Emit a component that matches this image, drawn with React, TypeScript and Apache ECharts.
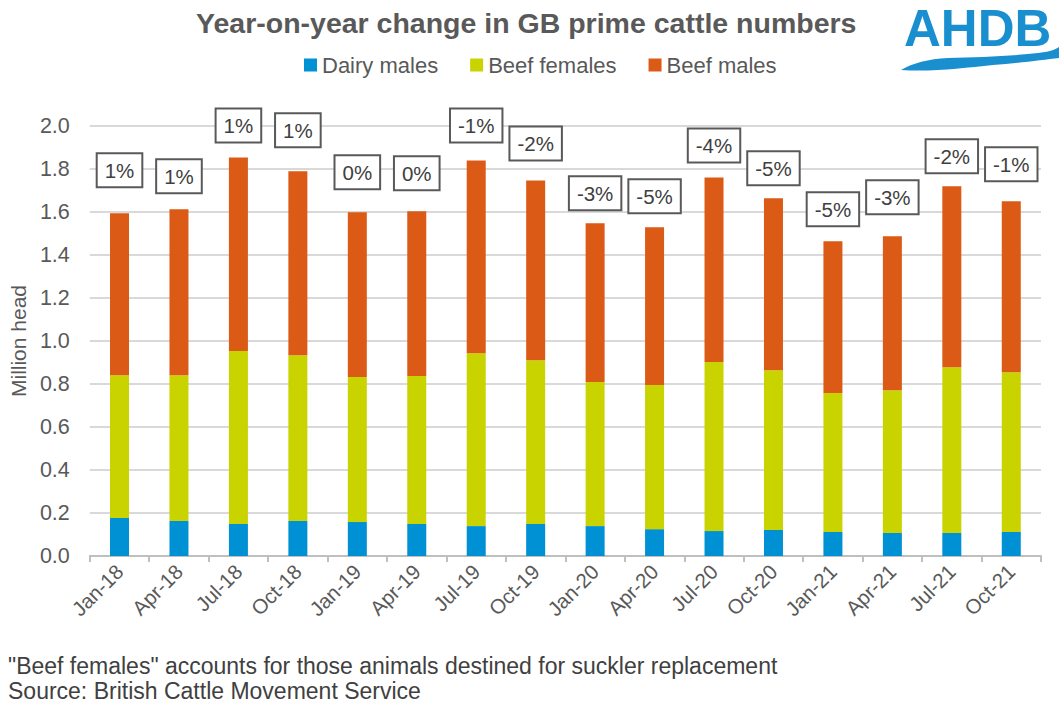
import React, { useEffect, useRef } from "react";
import * as echarts from "echarts";

// Quarterly GB prime cattle numbers (million head) by type
const categories = [
  "Jan-18", "Apr-18", "Jul-18", "Oct-18",
  "Jan-19", "Apr-19", "Jul-19", "Oct-19",
  "Jan-20", "Apr-20", "Jul-20", "Oct-20",
  "Jan-21", "Apr-21", "Jul-21", "Oct-21",
];
const dairyMales = [
  0.177, 0.163, 0.149, 0.163, 0.158, 0.149, 0.139, 0.149,
  0.139, 0.125, 0.116, 0.121, 0.112, 0.107, 0.107, 0.112,
];
const beefFemales = [
  0.664, 0.678, 0.804, 0.771, 0.674, 0.688, 0.804, 0.762,
  0.670, 0.670, 0.786, 0.743, 0.646, 0.664, 0.771, 0.743,
];
const beefMales = [
  0.753, 0.772, 0.901, 0.855, 0.767, 0.766, 0.897, 0.836,
  0.739, 0.734, 0.859, 0.800, 0.706, 0.716, 0.842, 0.795,
];
// Year-on-year change in the total, shown above each bar
const yoyChange = [
  "1%", "1%", "1%", "1%", "0%", "0%", "-1%", "-2%",
  "-3%", "-5%", "-4%", "-5%", "-5%", "-3%", "-2%", "-1%",
];
// Space (px) between each bar top and its change label
const labelGaps = [27, 17, 16, 25, 24, 22, 19, 21, 14, 15, 16, 14, 16, 23, 14, 21];

const yTicks = { min: 0, max: 2, interval: 0.2 };

const COLORS = ["#0090d4", "#c9d300", "#db5a16"];
const TEXT = "#595959";
const FONT = "Arial, 'Liberation Sans', Helvetica, sans-serif";

// Swoosh under the AHDB lettering
const WAVE =
  "M 8 29 C 20 22 35 18 55 17 C 85 16 120 15 145 12 C 155 11 162 9 166 6 " +
  "L 166 17 C 150 19 125 22 100 24 C 70 27 40 31 8 29 Z";
echarts.graphic.registerShape("ahdbWave", echarts.graphic.extendPath(WAVE, {}));

export default function App() {
  const ref = useRef<HTMLDivElement>(null);

  useEffect(() => {
    if (!ref.current) return;
    const chart = echarts.init(ref.current, undefined, { renderer: "svg" });

    const barCommon = {
      type: "bar" as const,
      stack: "total",
      barWidth: 19,
      emphasis: { disabled: true },
    };

    chart.setOption({
      animation: false,
      textStyle: { fontFamily: FONT },
      title: {
        text: "Year-on-year change in GB prime cattle numbers",
        left: 191,
        top: 3,
        textStyle: { fontSize: 28.5, fontWeight: "bold", color: TEXT, fontFamily: FONT },
      },
      legend: {
        left: 299,
        top: 49,
        itemWidth: 13,
        itemHeight: 13,
        itemGap: 32,
        icon: "rect",
        textStyle: { fontSize: 22, color: TEXT, fontFamily: FONT },
        data: ["Dairy males", "Beef females", "Beef males"],
      },
      grid: { left: 86, right: 23, top: 126, bottom: 153, containLabel: false },
      xAxis: {
        type: "category",
        data: categories,
        axisLine: { lineStyle: { color: "#bfbfbf", width: 2 } },
        axisTick: { show: true, length: 6, lineStyle: { color: "#bfbfbf", width: 2 } },
        axisLabel: {
          rotate: 45,
          fontSize: 20.5,
          color: TEXT,
          margin: 12,
          interval: 0,
          fontFamily: FONT,
        },
      },
      yAxis: {
        type: "value",
        min: yTicks.min,
        max: yTicks.max,
        interval: yTicks.interval,
        name: "Million head",
        nameLocation: "middle",
        nameGap: 59,
        nameTextStyle: { fontSize: 21, color: TEXT, fontFamily: FONT },
        axisLine: { show: false },
        axisTick: { show: false },
        axisLabel: {
          fontSize: 21.5,
          color: TEXT,
          margin: 20,
          fontFamily: FONT,
          formatter: (v: number) => v.toFixed(1),
        },
        splitLine: { lineStyle: { color: "#d9d9d9", width: 2 } },
      },
      series: [
        { ...barCommon, name: "Dairy males", data: dairyMales, itemStyle: { color: COLORS[0] } },
        { ...barCommon, name: "Beef females", data: beefFemales, itemStyle: { color: COLORS[1] } },
        {
          ...barCommon,
          name: "Beef males",
          itemStyle: { color: COLORS[2] },
          data: beefMales.map((v, i) => ({
            value: v,
            label: { distance: labelGaps[i] },
          })),
          label: {
            show: true,
            position: "top",
            formatter: (p: { dataIndex: number }) => yoyChange[p.dataIndex],
            fontSize: 20.5,
            color: "#404040",
            fontFamily: FONT,
            backgroundColor: "#ffffff",
            borderColor: "#595959",
            borderWidth: 2,
            padding: [6, 7, 5, 7],
          },
        },
      ],
      graphic: [
        {
          type: "text",
          left: 904,
          top: 3,
          style: {
            text: "AHDB",
            fill: "#1a8fd0",
            font: `bold 51px ${FONT}`,
          },
        },
        {
          type: "ahdbWave",
          x: 893,
          y: 41,
          style: { fill: "#1a8fd0" },
        },
        {
          type: "text",
          left: 8,
          top: 654,
          style: {
            text: '"Beef females" accounts for those animals destined for suckler replacement',
            fill: "#404040",
            font: `23px ${FONT}`,
          },
        },
        {
          type: "text",
          left: 8,
          top: 679,
          style: {
            text: "Source: British Cattle Movement Service",
            fill: "#404040",
            font: `23px ${FONT}`,
          },
        },
      ],
    });

    return () => chart.dispose();
  }, []);

  return <div ref={ref} style={{ width: 1064, height: 709, position: "absolute", left: 0, top: 0 }} />;
}
